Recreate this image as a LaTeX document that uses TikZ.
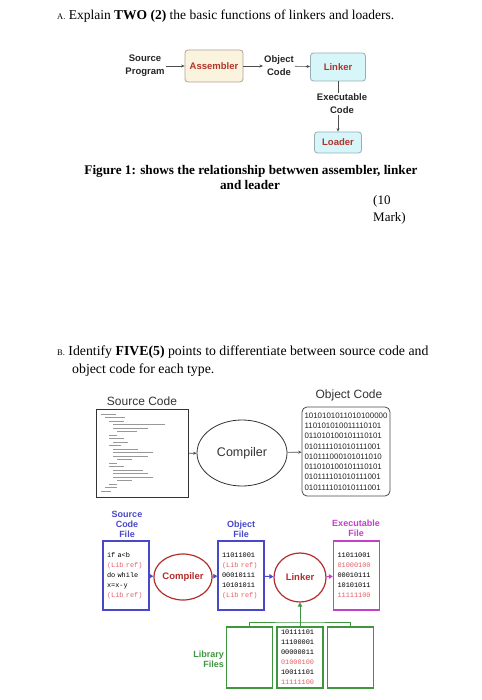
\documentclass[tikz,border=0pt]{standalone}
\usepackage{fontspec}
\setmainfont{Liberation Serif}
\setsansfont{Liberation Sans}
\setmonofont{Liberation Mono}
\usetikzlibrary{arrows.meta,shapes.geometric}
\definecolor{asmfill}{RGB}{250,243,222}
\definecolor{asmdraw}{RGB}{176,165,140}
\definecolor{cyfill}{RGB}{214,246,250}
\definecolor{cydraw}{RGB}{150,175,180}
\definecolor{redtxt}{RGB}{180,50,40}
\definecolor{blueC}{RGB}{72,72,200}
\definecolor{redC}{RGB}{180,45,45}
\definecolor{libred}{RGB}{228,96,104}
\definecolor{magC}{RGB}{196,64,200}
\definecolor{greenC}{RGB}{64,150,64}
\newcommand\fsz[2]{\fontsize{#1}{#2}\selectfont}
\tikzset{
  txt/.style={inner sep=0pt, anchor=base west, font=\fsz{13.5}{16}},
  flbl/.style={font=\sffamily\bfseries\fsz{9.5}{13}, align=center, text=black!85, inner sep=1pt},
  asmbox/.style={draw=asmdraw, fill=asmfill, rounded corners=3pt, minimum width=58pt, minimum height=32pt, font=\sffamily\bfseries\fsz{9.5}{11}, text=redtxt, line width=0.8pt},
  cybox/.style={draw=cydraw, fill=cyfill, rounded corners=3pt, font=\sffamily\bfseries\fsz{9.5}{11}, text=redtxt, line width=0.8pt},
  arr/.style={-{Stealth[length=3.5pt,width=3pt]}, line width=0.6pt, draw=black!70},
  plbl/.style={font=\sffamily\fsz{12}{14}, text=black!80, inner sep=0pt},
  codeline/.style={draw=black!40, line width=0.8pt},
  fbox/.style={draw=#1, line width=1.3pt, minimum height=69pt, inner xsep=4pt, inner ysep=2pt, font=\ttfamily\fsz{6.9}{10}, align=left, text width=38pt},
  flabel/.style={text=#1, font=\sffamily\bfseries\fsz{9}{10}, align=center, inner sep=0pt},
  fcirc/.style={ellipse, draw=redC, line width=1.2pt, text=redC, font=\sffamily\bfseries\fsz{9.5}{11}, inner sep=0pt},
  farr/.style={draw=#1, line width=1pt, -{Triangle[length=4pt,width=4.5pt]}},
}
\begin{document}
\begin{tikzpicture}[x=1pt,y=-1pt]
\useasboundingbox[fill=white] (0,0) rectangle (481,700);

% ---- Part A text
\node[txt] (qa) at (57,19.5) {{\fsz{8.5}{10}A.} Explain \textbf{TWO (2)} the basic functions of linkers and loaders.};

% ---- Figure 1
\node[flbl] (src) at (145,66) {Source\\Program};
\node[asmbox] (asm) at (214,66) {Assembler};
\node[flbl] (obj) at (279,66) {Object\\Code};
\node[cybox, minimum width=55pt, minimum height=28pt] (lnk) at (338,67) {Linker};
\node[flbl] (exe) at (342,104) {Executable\\Code};
\node[cybox, minimum width=47pt, minimum height=21pt] (ldr) at (338,142.5) {Loader};
\draw[arr] (src) -- (asm);
\draw[arr] (asm) -- (obj);
\draw[arr] (obj) -- (lnk);
\draw[line width=0.6pt, draw=black!70] (lnk.south) -- (lnk.south |- exe.north);
\draw[arr] (ldr.north |- exe.south) -- (ldr.north);

\node[inner sep=0pt, anchor=base, font=\bfseries\fsz{13.2}{15}] (cap1) at (251,175) {Figure 1: shows the relationship betwwen assembler, linker};
\node[inner sep=0pt, anchor=base, font=\bfseries\fsz{13.2}{15}] (cap2) at (250,189.5) {and leader};
\node[txt, font=\fsz{13}{15}] (m1) at (373,205) {(10};
\node[txt, font=\fsz{13}{15}] (m2) at (373,222) {Mark)};

% ---- Part B text
\node[txt, font=\fsz{13.8}{16}] (qb1) at (57,355) {{\fsz{8.5}{10}B.} Identify \textbf{FIVE(5)} points to differentiate between source code and};
\node[txt, font=\fsz{13.8}{16}] (qb2) at (72,373) {object code for each type.};

% ---- Figure 2 (source / compiler / object)
\node[plbl] (sclbl) at (142,401) {Source Code};
\node[draw=black!80, line width=0.8pt, minimum width=92pt, minimum height=88pt] (scbox) at (142,453.5) {};
\foreach \i/\ind/\len in {0/0/15,1/1/20,2/2/15,3/3/52,4/3/35,5/4/20,6/2/8,7/2/15,8/3/15,9/2/12,10/3/25,11/3/40,12/3/35,13/4/15,14/2/8,15/2/15,16/3/30,17/3/35,18/3/40,19/4/15,20/2/8,21/1/12,22/0/10}
  \draw[codeline] (101+\ind*4, 414+\i*3.5) -- ++(\len,0);
\node[ellipse, draw=black!80, line width=0.8pt, minimum width=90pt, minimum height=66pt, font=\sffamily\fsz{12.5}{14}, text=black!80] (comp) at (242,453) {Compiler};
\node[plbl] (oclbl) at (349,395) {Object Code};
\node[draw=black!70, line width=0.8pt, rounded corners=5pt, minimum width=88pt, minimum height=89pt, align=left, inner sep=2pt, font=\sffamily\fsz{7.9}{10.3}, text=black!85] (ocbox) at (346,451.5) {1010101011010100000\\110101010011110101\\011010100101110101\\010111101010111001\\010111000101011010\\011010100101110101\\010111101010111001\\010111101010111001};
\draw[arr] (scbox) -- (comp);
\draw[arr] (comp) -- (ocbox);

% ---- Figure 3 (compiler / linker / library)
\node[flabel=blueC] (sflbl) at (127,524) {Source\\Code\\File};
\node[flabel=blueC] (oflbl) at (241,529.5) {Object\\File};
\node[flabel=magC] (eflbl) at (356,528.5) {Executable\\File};
\node[fbox=blueC] (sf) at (126,575.5) {if a<b\\\textcolor{libred}{(Lib ref)}\\do while\\x=x-y\\\textcolor{libred}{(Lib ref)}};
\node[fcirc, minimum width=51pt, minimum height=46pt] (cc) at (183,577) {Compiler};
\node[fbox=blueC] (of) at (241,575.5) {11011001\\\textcolor{libred}{(Lib ref)}\\00010111\\10101011\\\textcolor{libred}{(Lib ref)}};
\node[fcirc, minimum width=52pt, minimum height=49pt] (lc) at (300,577.5) {Linker};
\node[fbox=magC] (ef) at (356.5,575.5) {11011001\\\textcolor{libred}{01000100}\\00010111\\10101011\\\textcolor{libred}{11111100}};
\draw[farr=blueC] (sf) -- (cc);
\draw[farr=blueC] (cc) -- (of);
\draw[farr=blueC] (of) -- (lc);
\draw[farr=magC] (lc) -- (ef);

\node[fbox=greenC, minimum height=61pt] (l1) at (249.5,657.5) {};
\node[fbox=greenC, minimum height=61pt] (l2) at (300,657.5) {10111101\\11100001\\00000011\\\textcolor{libred}{01000100}\\10011101\\\textcolor{libred}{11111100}};
\node[fbox=greenC, minimum height=61pt] (l3) at (350.5,657.5) {};
\coordinate (brk) at (300,622);
\draw[draw=greenC, line width=1pt] (l1.north) |- (brk) -| (l3.north);
\draw[farr=greenC] (l2.north) -- (lc.south);
\node[flabel=greenC, align=right, anchor=east] (libl) at (224,659) {Library\\Files};
\end{tikzpicture}
\end{document}
